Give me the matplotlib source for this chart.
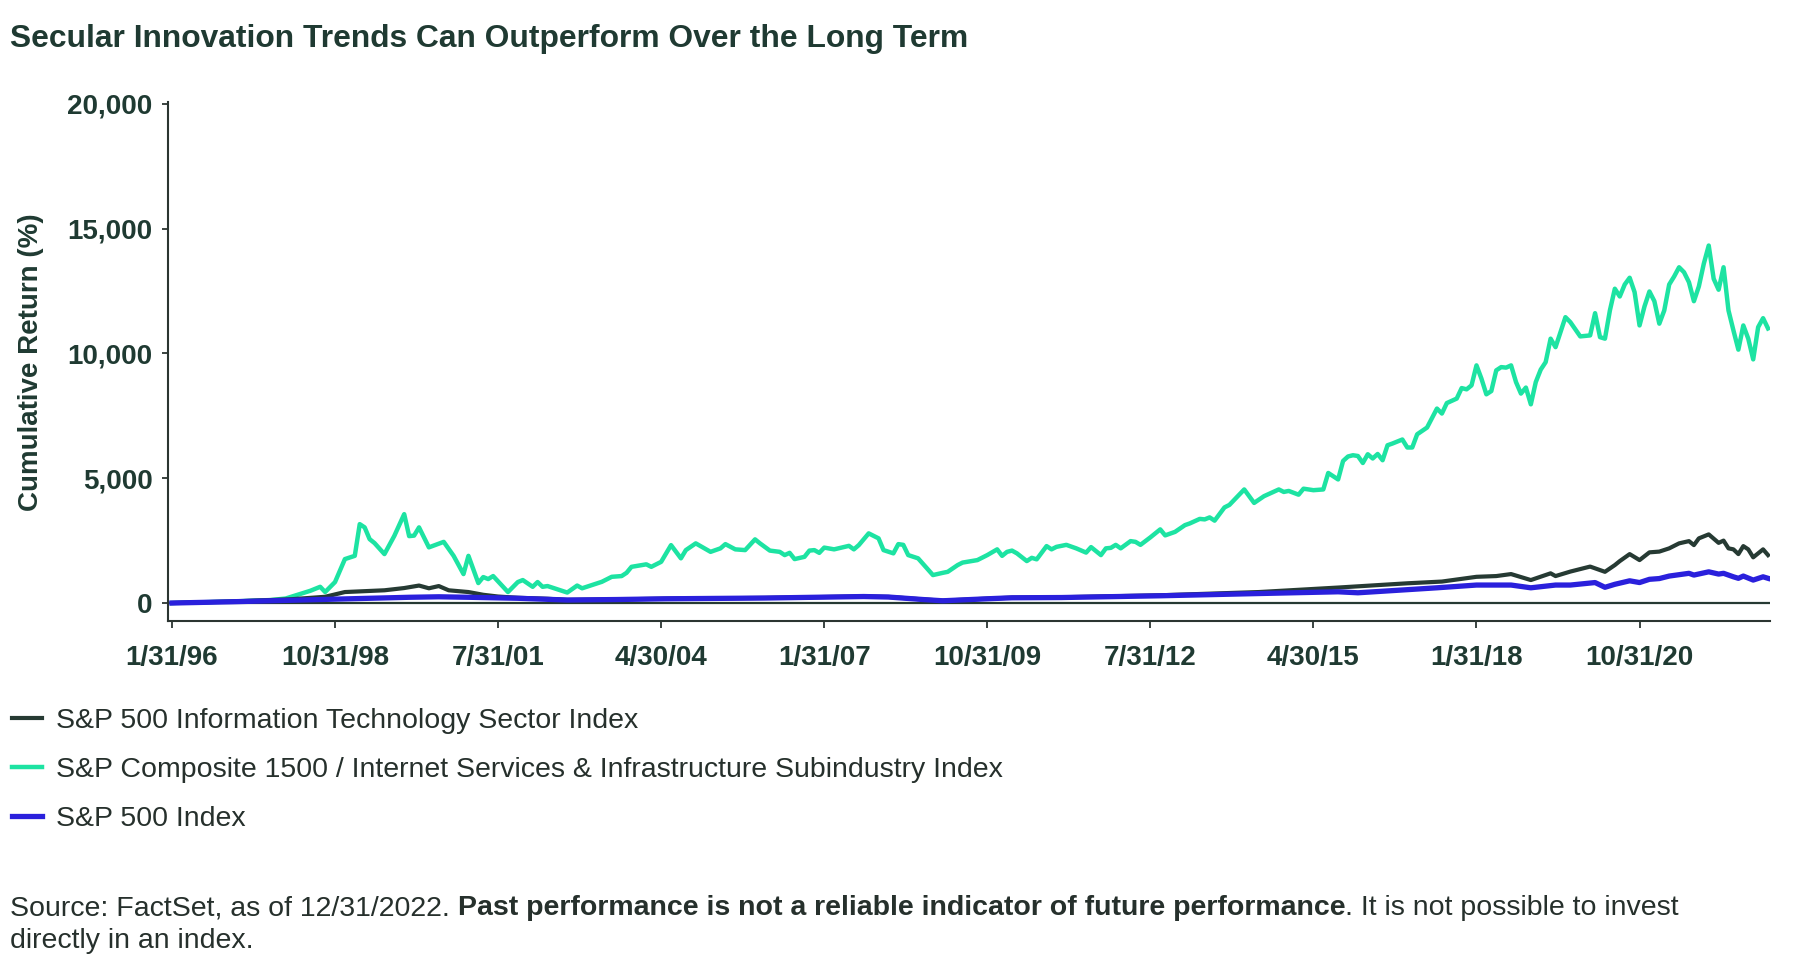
import matplotlib.pyplot as plt
from matplotlib.ticker import FuncFormatter

plt.rcParams['font.family'] = ['Liberation Sans', 'DejaVu Sans']

# month offsets from Jan 1996 (0) to Dec 2022 (323), cumulative return in %
internet = [
    (0, 0), (12, 60), (20, 120), (23, 180), (28, 490), (30, 650), (31, 440), (33, 840),
    (35, 1760), (37, 1890), (38, 3160), (39, 3030), (40, 2560), (41, 2400), (43, 1960),
    (45, 2690), (47, 3560), (48, 2680), (49, 2700), (50, 3030), (52, 2230), (55, 2450),
    (57, 1890), (59, 1160), (60, 1890), (62, 800), (63, 1040), (64, 960), (65, 1080),
    (68, 440), (70, 840), (71, 920), (73, 650), (74, 840), (75, 650), (76, 680), (80, 420),
    (82, 700), (83, 590), (87, 850), (89, 1050), (91, 1080), (92, 1210), (93, 1450),
    (96, 1550), (97, 1450), (99, 1650), (101, 2320), (103, 1790), (104, 2120), (106, 2390),
    (109, 2050), (111, 2190), (112, 2360), (114, 2150), (116, 2120), (118, 2550),
    (119, 2390), (121, 2100), (123, 2050), (124, 1920), (125, 2010), (126, 1760),
    (128, 1850), (129, 2100), (130, 2120), (131, 2010), (132, 2220), (134, 2150),
    (137, 2290), (138, 2150), (139, 2320), (141, 2790), (143, 2590), (144, 2120),
    (146, 1990), (147, 2360), (148, 2330), (149, 1920), (151, 1790), (154, 1120),
    (156, 1210), (157, 1250), (159, 1520), (160, 1620), (163, 1720), (165, 1920),
    (167, 2150), (168, 1890), (169, 2050), (170, 2100), (171, 1990), (173, 1680),
    (174, 1810), (175, 1750), (177, 2280), (178, 2150), (179, 2250), (181, 2330),
    (183, 2190), (185, 2020), (186, 2240), (188, 1920), (189, 2190), (190, 2210),
    (191, 2330), (192, 2190), (194, 2480), (195, 2450), (196, 2330), (198, 2630),
    (200, 2950), (201, 2710), (203, 2850), (205, 3120), (206, 3190), (208, 3370),
    (209, 3350), (210, 3430), (211, 3300), (213, 3830), (214, 3930), (217, 4550),
    (219, 4010), (221, 4280), (224, 4550), (225, 4450), (226, 4490), (228, 4340),
    (229, 4580), (231, 4520), (233, 4550), (234, 5210), (236, 4950), (237, 5690),
    (238, 5870), (239, 5920), (240, 5890), (241, 5610), (242, 5960), (243, 5790),
    (244, 5970), (245, 5720), (246, 6320), (247, 6390), (249, 6550), (250, 6230),
    (251, 6230), (252, 6760), (254, 7030), (256, 7790), (257, 7590), (258, 8010),
    (260, 8190), (261, 8610), (262, 8560), (263, 8720), (264, 9520), (265, 8990),
    (266, 8360), (267, 8490), (268, 9320), (269, 9450), (270, 9430), (271, 9520),
    (272, 8850), (273, 8390), (274, 8630), (275, 7960), (276, 8850), (277, 9350),
    (278, 9650), (279, 10590), (280, 10250), (282, 11450), (283, 11250), (285, 10680),
    (287, 10720), (288, 11610), (289, 10650), (290, 10590), (291, 11720), (292, 12590),
    (293, 12280), (294, 12760), (295, 13030), (296, 12450), (297, 11120), (298, 11880),
    (299, 12480), (300, 12090), (301, 11190), (302, 11720), (303, 12760), (304, 13080),
    (305, 13450), (306, 13250), (307, 12850), (308, 12090), (309, 12680), (310, 13590),
    (311, 14320), (312, 12990), (313, 12550), (314, 13450), (315, 11720), (316, 10920),
    (317, 10150), (318, 11120), (319, 10590), (320, 9760), (321, 11050), (322, 11410),
    (323, 11000),
]

info_tech = [
    (0, 0), (12, 60), (24, 150), (31, 250), (35, 440), (43, 510), (47, 600), (50, 700),
    (52, 590), (54, 680), (56, 510), (60, 440), (63, 330), (66, 260), (70, 210), (76, 170),
    (80, 125), (90, 145), (100, 175), (120, 205), (140, 265), (145, 245), (152, 145),
    (156, 95), (165, 175), (170, 215), (180, 230), (200, 310), (220, 440), (236, 620),
    (250, 790), (257, 860), (264, 1050), (268, 1080), (271, 1160), (275, 920), (279, 1190),
    (280, 1080), (283, 1260), (287, 1460), (290, 1250), (292, 1520), (293, 1680),
    (295, 1960), (297, 1720), (299, 2030), (301, 2060), (303, 2190), (305, 2390),
    (307, 2480), (308, 2320), (309, 2590), (311, 2750), (313, 2410), (314, 2500),
    (315, 2190), (316, 2150), (317, 1960), (318, 2280), (319, 2150), (320, 1830),
    (321, 1990), (322, 2150), (323, 1920),
]

sp500 = [
    (0, 0), (12, 50), (24, 110), (36, 170), (48, 230), (54, 250), (60, 230), (70, 190),
    (80, 120), (90, 140), (100, 170), (120, 200), (140, 260), (145, 240), (152, 140),
    (156, 90), (165, 170), (170, 210), (180, 220), (200, 290), (220, 380), (236, 450),
    (240, 410), (256, 610), (264, 720), (271, 720), (275, 610), (280, 720), (283, 720),
    (288, 820), (290, 630), (292, 750), (295, 890), (297, 820), (299, 950), (301, 980),
    (303, 1080), (307, 1190), (308, 1120), (311, 1250), (313, 1160), (314, 1190),
    (316, 1050), (317, 990), (318, 1080), (320, 920), (322, 1050), (323, 990),
]

tick_months = [0, 33, 66, 99, 132, 165, 198, 231, 264, 297]
tick_labels = ['1/31/96', '10/31/98', '7/31/01', '4/30/04', '1/31/07',
               '10/31/09', '7/31/12', '4/30/15', '1/31/18', '10/31/20']
y_ticks = [0, 5000, 10000, 15000, 20000]

series_names = ['S&P 500 Information Technology Sector Index',
                'S&P Composite 1500 / Internet Services & Infrastructure Subindustry Index',
                'S&P 500 Index']

GREEN = '#1de3a2'
DARK = '#263a33'
BLUE = '#2a20dc'
TEXT = '#1f3a32'
BODY = '#26302c'

W, H = 1800, 980
fig = plt.figure(figsize=(W / 100, H / 100), dpi=100)
ax = fig.add_axes([168 / W, 1 - 621 / H, (1770 - 168) / W, (621 - 102) / H])

gx, gy = zip(*internet)
tx, ty = zip(*info_tech)
sx, sy = zip(*sp500)

ax.axhline(0, color=DARK, lw=1.6, zorder=1)
l_green, = ax.plot(gx, gy, color=GREEN, lw=3.2, solid_joinstyle='round', zorder=2)
l_it, = ax.plot(tx, ty, color=DARK, lw=3.0, solid_joinstyle='round', zorder=3)
l_sp, = ax.plot(sx, sy, color=BLUE, lw=3.8, solid_joinstyle='round', zorder=4)

ax.set_xlim(-0.8, 323.4)
ax.set_ylim(-720, 20070)
ax.set_xticks(tick_months)
ax.set_xticklabels(tick_labels)
ax.set_yticks(y_ticks)
ax.yaxis.set_major_formatter(FuncFormatter(lambda v, p: f'{v:,.0f}'))

for side in ['top', 'right']:
    ax.spines[side].set_visible(False)
for side in ['left', 'bottom']:
    ax.spines[side].set_color('#2b3531')
    ax.spines[side].set_linewidth(1.5)

ax.tick_params(axis='y', length=4, width=1.3, color='#2b3531', pad=7,
               labelsize=20, labelcolor=TEXT)
ax.tick_params(axis='x', length=5, width=1.3, color='#2b3531', pad=12,
               labelsize=20, labelcolor=TEXT)
for lbl in ax.get_xticklabels() + ax.get_yticklabels():
    lbl.set_fontweight('bold')

fig.text(31 / W, 1 - 362 / H, 'Cumulative Return (%)', rotation=90, ha='center',
         va='center', fontsize=20, fontweight='bold', color=TEXT)

fig.text(10 / W, 1 - 39 / H, 'Secular Innovation Trends Can Outperform Over the Long Term',
         ha='left', va='center', fontsize=22.9, fontweight='bold', color=TEXT)

fig.legend([l_it, l_green, l_sp], series_names, loc='upper left',
           bbox_to_anchor=(12 / W, 1 - 708 / H), frameon=False, fontsize=20.5,
           handlelength=1.05, handletextpad=0.5, labelspacing=0.81,
           borderaxespad=0, borderpad=0, labelcolor=BODY)

# source note with a bold middle part
s1 = fig.text(10 / W, 1 - 908 / H, 'Source: FactSet, as of 12/31/2022. ', ha='left',
              va='center', fontsize=20.5, color=BODY)
s2 = ax.annotate('Past performance is not a reliable indicator of future performance',
                 xy=(1, 0), xycoords=s1, ha='left', va='bottom', fontsize=20.5,
                 fontweight='bold', color=BODY, annotation_clip=False)
ax.annotate('. It is not possible to invest', xy=(1, 0), xycoords=s2, ha='left',
            va='bottom', fontsize=20.5, color=BODY, annotation_clip=False)
fig.text(10 / W, 1 - 941 / H, 'directly in an index.', ha='left', va='center',
         fontsize=20.5, color=BODY)

fig.savefig('out.png', dpi=100, facecolor='white')
